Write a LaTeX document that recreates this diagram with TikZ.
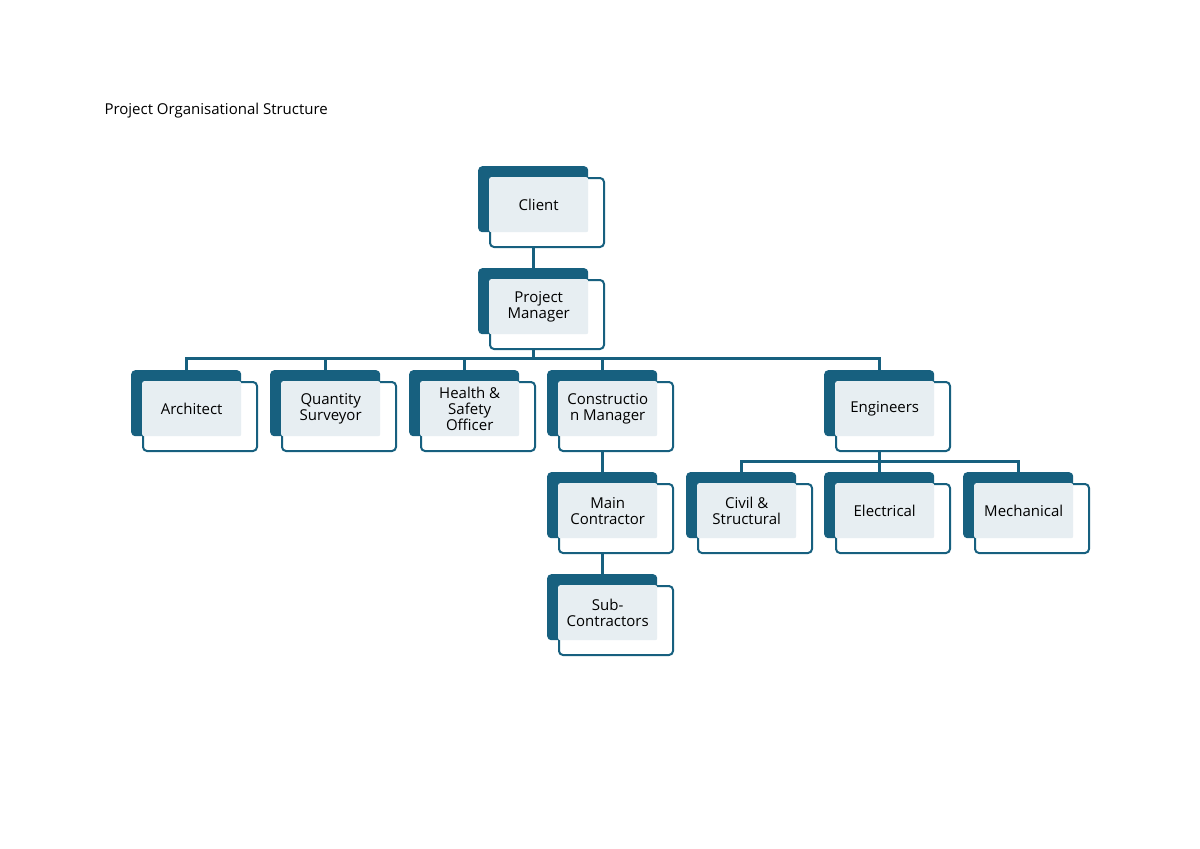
\documentclass[tikz,border=0pt]{standalone}
\usepackage{fontspec}
\setmainfont{Open Sans}
\usetikzlibrary{backgrounds}
\definecolor{dk}{HTML}{17607F}
\definecolor{lt}{HTML}{E7EEF2}
\tikzset{
 backbox/.style={fill=dk,rounded corners=4pt,minimum width=110pt,minimum height=66pt,inner sep=0,anchor=north west},
 frontbox/.style={draw=dk,line width=2pt,fill=white,rounded corners=4pt,minimum width=114pt,minimum height=69pt,inner sep=0,anchor=north west},
 lightbox/.style={fill=lt,rounded corners=2pt,minimum width=99pt,minimum height=55pt,inner sep=0,anchor=north west,align=center,font=\fontsize{15}{16}\selectfont},
 conn/.style={draw=dk,line width=3pt}
}
\newcommand{\orgbox}[4]{%
 \node[backbox] (#1b) at (#2,#3) {};
 \node[frontbox] (#1f) at (#2+11,#3+11) {};
 \node[lightbox] (#1) at (#2+11,#3+11) {#4};
}
\begin{document}
\begin{tikzpicture}[x=1pt,y=-1pt]
\useasboundingbox (0,0) rectangle (1200,849);
\node[anchor=west,font=\fontsize{15}{16}\selectfont] (title) at (101,111) {Project Organisational Structure};
\orgbox{client}{478}{166}{Client}
\orgbox{pm}{478}{268}{Project\\Manager}
\orgbox{arch}{131}{370}{Architect}
\orgbox{qs}{270}{370}{Quantity\\Surveyor}
\orgbox{hs}{409}{370}{Health \&\\Safety\\Officer}
\orgbox{cm}{547}{370}{Constructio\\n Manager}
\orgbox{eng}{824}{370}{Engineers}
\orgbox{mc}{547}{472}{Main\\Contractor}
\orgbox{sub}{547}{574}{Sub-\\Contractors}
\orgbox{civ}{686}{472}{Civil \&\\Structural}
\orgbox{ele}{824}{472}{Electrical}
\orgbox{mec}{963}{472}{Mechanical}
\begin{scope}[on background layer]
\draw[conn] (clientb.south) -- (pmb.north);
\foreach \t in {arch,qs,hs,cm,eng}{\draw[conn] (pmb.south) -- ++(0,24) -| (\t b.north);}
\foreach \t in {civ,ele,mec}{\draw[conn] (engb.south) -- ++(0,25) -| (\t b.north);}
\draw[conn] (cmb.south) -- (mcb.north);
\draw[conn] (mcb.south) -- (subb.north);
\end{scope}
\end{tikzpicture}
\end{document}
